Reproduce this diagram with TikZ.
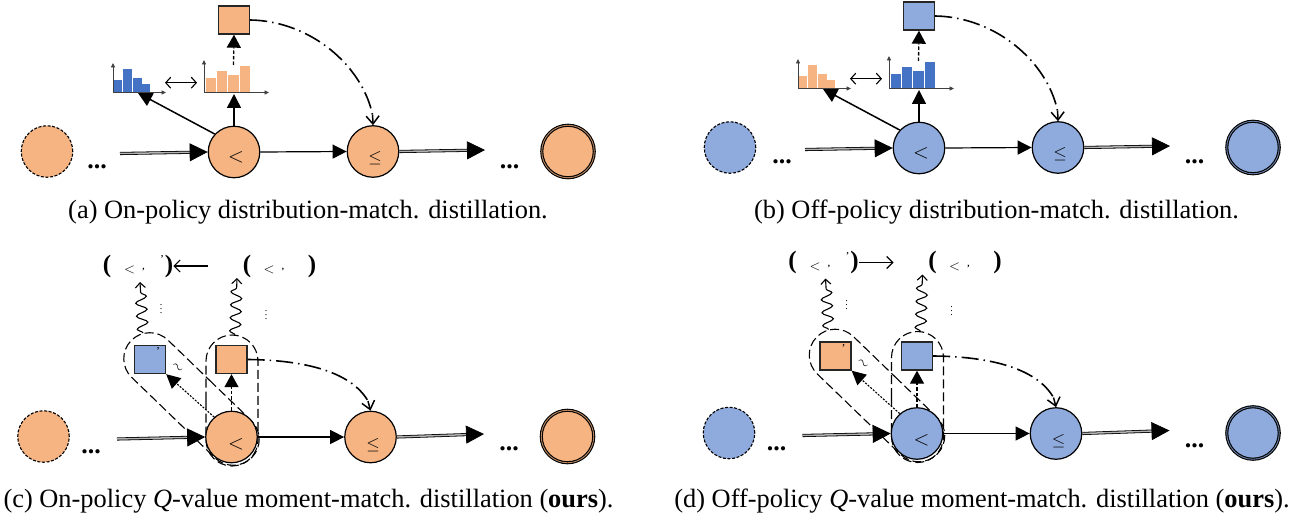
\documentclass[tikz,border=0pt]{standalone}
\usepackage{fontspec}
\setmainfont{Liberation Serif}
\usetikzlibrary{arrows.meta,shapes.misc,decorations.pathmorphing}
\definecolor{myorange}{HTML}{F5B482}
\definecolor{myblue}{HTML}{8FAADC}
\definecolor{histblue}{HTML}{4472C4}
\definecolor{axisgray}{HTML}{404040}
\tikzset{
  state/.style={circle,draw=black,line width=1.2pt,inner sep=0pt,minimum size=51.5pt},
  startstate/.style={state,line width=1.1pt,dash pattern=on 3pt off 1.6pt},
  endstate/.style={circle,draw=black,line width=1.1pt,double distance=.9pt,inner sep=0pt,minimum size=52.5pt},
  actionbox/.style={rectangle,draw=black!85,line width=1.4pt,inner sep=0pt,minimum width=31pt,minimum height=28pt},
  dblarrow/.style={draw=black,line width=.8pt,double=black!30,double distance=1.5pt,-{Triangle[length=18pt,width=18pt,fill=black]}},
  thinarrow/.style={black,line width=1.2pt,-{Triangle[length=14pt,width=14pt]}},
  solidup/.style={black,line width=1.5pt,-{Triangle[length=14pt,width=14pt]}},
  dashup/.style={black,line width=1.3pt,dash pattern=on 3.5pt off 2pt,-{Triangle[length=13pt,width=14pt]}},
  dotarrow/.style={black,line width=1.1pt,dash pattern=on 2pt off 1.4pt,-{Triangle[length=14pt,width=14pt]}},
  dashdot/.style={black,line width=1.6pt,dash pattern=on 17pt off 5pt on 1.5pt off 5pt},
  barbend/.style={black,line width=1.5pt,-{Straight Barb[length=8pt,width=13pt,line width=1.5pt]}},
  axisline/.style={axisgray,line width=.9pt,-{Triangle[length=4.5pt,width=4pt]}},
  capsule/.style={rounded rectangle,draw=black,line width=1.1pt,dash pattern=on 9pt off 4pt,inner sep=0pt},
  wavy/.style={black,line width=1.1pt,decorate,decoration={snake,amplitude=5.5pt,segment length=13pt,post length=5pt},-{Straight Barb[length=5pt,width=10pt,line width=1.1pt]}},
  openarrow/.style={black,line width=1.1pt,{Straight Barb[length=5pt,width=11pt]}-{Straight Barb[length=5pt,width=11pt]}},
  onearrow/.style={black,line width=1.1pt,-{Straight Barb[length=6pt,width=12pt]}},
  caption/.style={font=\fontsize{26.4}{30}\selectfont,inner sep=0pt,anchor=base},
  ell/.style={font=\fontsize{26}{26}\selectfont\bfseries,inner sep=0pt,anchor=base},
  symb/.style={font=\fontsize{20}{20}\selectfont,inner sep=0pt},
  symbb/.style={font=\fontsize{18}{18}\selectfont,inner sep=0pt},
  paren/.style={font=\fontsize{25}{25}\selectfont\bfseries,inner sep=0pt},
  small/.style={font=\fontsize{14}{14}\selectfont,inner sep=0pt},
  tiny/.style={font=\fontsize{9}{9}\selectfont\bfseries,inner sep=0pt},
  dotsv/.style={font=\fontsize{10}{10}\selectfont,inner sep=0pt}
}
% bars of the two histograms
\newcommand{\leftbars}[1]{\foreach \a/\b/\t in {113/122/80.5,123/132/69.5,132.5/141.5/78,141.5/150/84}{\fill[#1] (\a,\t) rectangle (\b,92.5);}}
\newcommand{\rightbars}[1]{\foreach \a/\b/\t in {205.5/216/78.5,217/227/71,228/238.5/75.5,239.5/250/66}{\fill[#1] (\a,\t) rectangle (\b,92.5);}}
% prefix, dx, dy, state colour, left hist colour, right hist colour, start x
\newcommand{\toppanel}[7]{%
\begin{scope}[shift={(#2,#3)},name prefix=#1-]
  \node[startstate,fill=#4] (start) at (#7,151.5) {};
  \node[state,fill=#4] (s) at (234,152) {};
  \node[state,fill=#4] (le) at (373,151.5) {};
  \node[endstate,fill=#4,double=#4!75!black] (end) at (568,151.5) {};
  \node[symb] (slab) at (236,157.5) {$<$};
  \node[symbb] (lelab) at (375,158) {$\leq$};
  \node[ell] (dotsa) at (97,168) {...};
  \node[ell] (dotsb) at (509.5,168) {...};
  \coordinate (dblin) at (120,153.5);
  \coordinate (dblout) at (485,150);
  \draw[dblarrow] (dblin) -- (s.west);
  \draw[thinarrow] (s.east) -- (le.west);
  \draw[dblarrow] (le.east) -- (dblout);
  \leftbars{#5}
  \rightbars{#6}
  \draw[axisline] (113,92.5) -- (113,63);
  \draw[axisline] (113,92.5) -- (166,92.5);
  \draw[axisline] (204,92.5) -- (204,60);
  \draw[axisline] (204,92.5) -- (269,92.5);
  \coordinate (hl) at (138,93);
  \coordinate (hr) at (234,94);
  \coordinate (htop) at (233.5,65);
  \coordinate (cmpl) at (165,82.7);
  \coordinate (cmpr) at (197,82.7);
  \node[actionbox,fill=#4,minimum height=28pt] (a) at (234,20) {};
  \draw[openarrow] (cmpl) -- (cmpr);
  \draw[solidup] (s.137) -- (hl);
  \draw[solidup] (s.north) -- (hr);
  \draw[dashup] (htop) -- (a.south);
  \coordinate (curveend) at (372.6,115);
  \draw[dashdot] (a.east) .. controls (310,21) and (362,65) .. (curveend);
  \draw[barbend] (curveend) -- (le.north);
\end{scope}}
% prefix, dx, dy, state colour, side box colour, arrow between the two outputs
\newcommand{\botpanel}[6]{%
\begin{scope}[shift={(#2,#3)},name prefix=#1-]
  \node[capsule,minimum width=131pt,minimum height=52pt,rotate=90] (capa) at (232,400.5) {};
  \node[capsule,minimum width=168pt,minimum height=52pt,rotate=-44] (capb) at (191.5,399) {};
  \node[startstate,fill=#4] (start) at (43.5,436.5) {};
  \node[state,fill=#4] (s) at (231.5,437) {};
  \node[state,fill=#4] (le) at (370.5,437) {};
  \node[endstate,fill=#4,double=#4!75!black] (end) at (567.5,436.5) {};
  \node[symb] (slab) at (236,444) {$<$};
  \node[symbb] (lelab) at (373,445) {$\leq$};
  \node[ell] (dotsa) at (91,453.5) {...};
  \node[ell] (dotsb) at (509,450.5) {...};
  \coordinate (dblin) at (117,439);
  \coordinate (dblout) at (484,434);
  \draw[dblarrow] (dblin) -- (s.west);
  \draw[thinarrow] (s.east) -- (le.west);
  \draw[dblarrow] (le.east) -- (dblout);
  \node[actionbox,fill=#4] (a) at (231.5,359.5) {};
  \node[actionbox,fill=#5] (b) at (150,359.5) {};
  \node[tiny] (bprime) at (158,351) {'};
  \node[small,rotate=-40] (tildemark) at (177,368) {$\sim$};
  \draw[dashup] (s.north) -- (a.south);
  \draw[dotarrow] (s.131) -- (b.south east);
  \coordinate (curveend) at (368,401);
  \draw[dashdot] (a.east) .. controls (300,360) and (350,370) .. (curveend);
  \draw[barbend] (curveend) -- (le.north);
  \node[paren] (qao) at (107,266) {(};
  \node[small] (qas) at (129.5,270) {$<$};
  \node[tiny] (qac) at (143.5,270) {,};
  \node[tiny] (qap) at (162,259) {'};
  \node[paren] (qac2) at (169,266) {)};
  \node[paren] (qbo) at (247,266) {(};
  \node[small] (qbs) at (269,270) {$<$};
  \node[tiny] (qbc) at (283,270) {,};
  \node[paren] (qbc2) at (312,266) {)};
  \node[dotsv] (vda) at (161,306) {$\vdots$};
  \node[dotsv] (vdb) at (266,312) {$\vdots$};
  \coordinate (wavea) at (143,333);
  \coordinate (waveb) at (235,335);
  \coordinate (tipa) at (140,282);
  \coordinate (tipb) at (237,278);
  \draw[wavy] (wavea) -- (tipa);
  \draw[wavy] (waveb) -- (tipb);
  #6
\end{scope}}
\begin{document}
\begin{tikzpicture}[x=1pt,y=-1pt]
\useasboundingbox (0,0) rectangle (1297,513);
\toppanel{pa}{0}{0}{myorange}{histblue}{myorange}{47}
\toppanel{pb}{685}{-4}{myblue}{myorange}{histblue}{45}
\botpanel{pc}{0}{0}{myorange}{myblue}{\coordinate (ql) at (208,266); \draw[onearrow] (ql) -- (qac2.east);}
\botpanel{pd}{685.5}{-3.5}{myblue}{myorange}{\coordinate (qr) at (208,266); \draw[onearrow] (qac2.east) -- (qr);}
\node[caption] (capa) at (308,218) {(a) On-policy distribution-match. distillation.};
\node[caption] (capb) at (996.5,218) {(b) Off-policy distribution-match. distillation.};
\node[caption] (capc) at (308.5,507) {(c) On-policy \textit{Q}-value moment-match. distillation (\textbf{ours}).};
\node[caption] (capd) at (982,507) {(d) Off-policy \textit{Q}-value moment-match. distillation (\textbf{ours}).};
\end{tikzpicture}
\end{document}
